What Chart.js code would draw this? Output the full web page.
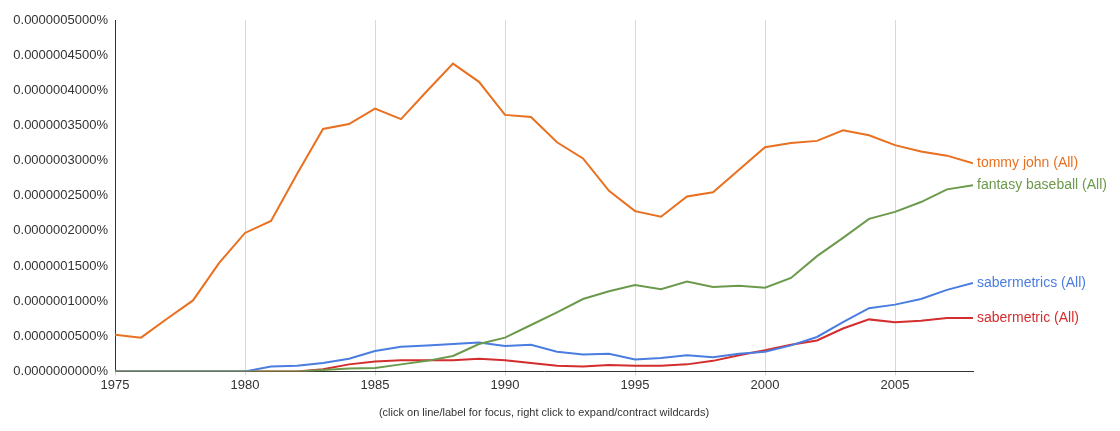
<!DOCTYPE html>
<html><head><meta charset="utf-8">
<script src="https://cdn.jsdelivr.net/npm/chart.js@4/dist/chart.umd.min.js"></script>
<style>html,body{margin:0;padding:0;background:#fff}#w{width:1120px;height:431px}</style>
</head><body><div id="w"><canvas id="c"></canvas></div>
<script>
const years = [];
for (let y = 1975; y <= 2008; y++) years.push(y);
// values in units of 1e-8 percent
const tommyJohn = [5.2,4.8,7.5,10.1,15.4,19.7,21.4,28.1,34.5,35.2,37.4,35.9,39.9,43.8,41.2,36.5,36.2,32.6,30.3,25.7,22.8,22.0,24.9,25.5,28.7,31.9,32.5,32.8,34.3,33.6,32.2,31.3,30.7,29.6];
const fantasyBaseball = [0,0,0,0,0,0,0,0,0.2,0.4,0.5,1.0,1.5,2.2,3.9,4.8,6.6,8.4,10.3,11.4,12.3,11.7,12.8,12.0,12.2,11.9,13.3,16.4,19.0,21.7,22.7,24.1,25.9,26.5];
const sabermetrics = [0,0,0,0,0,0,0.7,0.8,1.2,1.8,2.9,3.5,3.7,3.9,4.1,3.6,3.8,2.8,2.4,2.5,1.7,1.9,2.3,2.0,2.5,2.8,3.7,4.9,7.0,9.0,9.5,10.3,11.6,12.6];
const sabermetric = [0,0,0,0,0,0,0,0,0.3,1.0,1.4,1.6,1.6,1.6,1.8,1.6,1.2,0.8,0.7,0.9,0.8,0.8,1.0,1.5,2.3,3.0,3.8,4.4,6.1,7.4,7.0,7.2,7.6,7.6];
const labels = ['tommy john (All)','fantasy baseball (All)','sabermetrics (All)','sabermetric (All)'];
const colors = ['#e8701f','#6c9a4c','#4a7de0','#d42d2d'];
const series = [tommyJohn,fantasyBaseball,sabermetrics,sabermetric];
const note = '(click on line/label for focus, right click to expand/contract wildcards)';

const endLabels = {
  id:'endLabels',
  afterDraw(chart){
    const ctx = chart.ctx;
    ctx.save();
    ctx.font = '14px Arial, "Liberation Sans", sans-serif';
    ctx.textBaseline = 'middle';
    chart.data.datasets.forEach((ds,i)=>{
      const pts = chart.getDatasetMeta(i).data;
      const p = pts[pts.length-1];
      ctx.fillStyle = ds.borderColor;
      ctx.fillText(ds.label, p.x+4, p.y);
    });
    ctx.fillStyle = '#333';
    ctx.font = '11px Arial, "Liberation Sans", sans-serif';
    ctx.textAlign = 'center';
    ctx.fillText(note, (chart.chartArea.left+chart.chartArea.right)/2, 413);
    ctx.restore();
  }
};

new Chart(document.getElementById('c'), {
  type:'line',
  data:{
    datasets: series.map((s,i)=>({
      label:labels[i], borderColor:colors[i], backgroundColor:colors[i],
      data:s.map((v,j)=>({x:years[j], y:v})), borderWidth:2, pointRadius:0, tension:0
    }))
  },
  options:{
    responsive:true, maintainAspectRatio:false, animation:false,
    layout:{padding:{left:0,right:147,top:20,bottom:36}},
    plugins:{legend:{display:false},tooltip:{enabled:false}},
    scales:{
      x:{type:'linear',min:1975,max:2008,
        afterBuildTicks(a){a.ticks=[1975,1980,1985,1990,1995,2000,2005].map(v=>({value:v}));},
        grid:{color:'#d8d8d8',drawTicks:true,tickLength:4},
        border:{color:'#333',width:1},
        ticks:{color:'#333',font:{size:13,family:'Arial, "Liberation Sans", sans-serif'},callback:v=>String(v),maxRotation:0,padding:2}},
      y:{min:0,max:50,
        afterFit(a){a.width=115;},
        afterBuildTicks(a){a.ticks=[0,5,10,15,20,25,30,35,40,45,50].map(v=>({value:v}));},
        grid:{display:false,drawTicks:true,tickLength:4},
        border:{color:'#333',width:1},
        ticks:{color:'#333',font:{size:13,family:'Arial, "Liberation Sans", sans-serif'},
          callback:v=>(v*1e-8).toFixed(10).replace(/^(\d\.\d{10}).*/,'$1').slice(0,12)+'%'}}
    }
  },
  plugins:[endLabels]
});
</script></body></html>
